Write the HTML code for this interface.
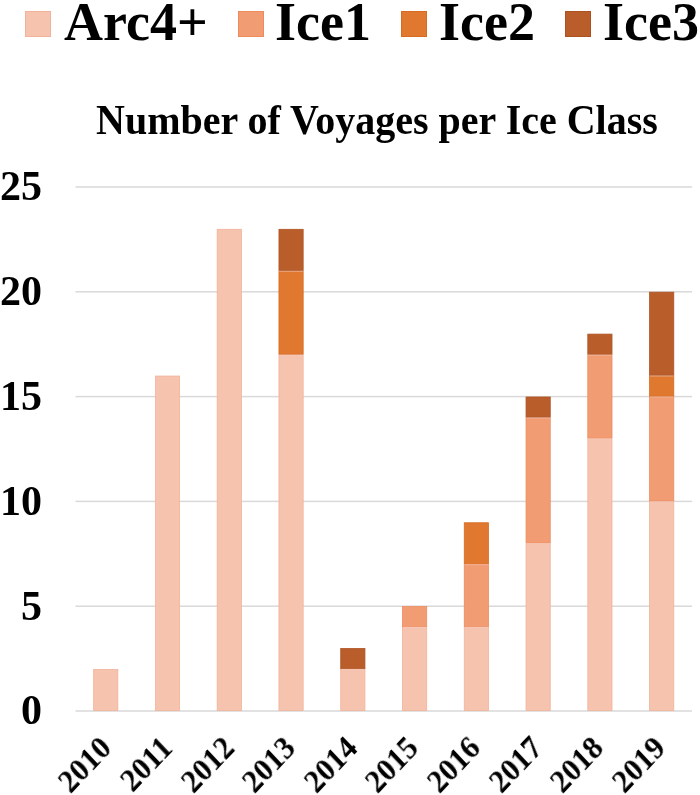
<!DOCTYPE html>
<html><head><meta charset="utf-8"><style>
html,body{margin:0;padding:0;background:#fff;width:700px;height:795px;overflow:hidden}
body{position:relative;font-family:"Liberation Serif",serif;font-weight:bold;color:#000}
.sw{position:absolute;top:11px;width:26px;height:26px}
.lg{position:absolute;will-change:transform;top:-5.1px;font-size:54px;line-height:54px;white-space:nowrap}
.title{position:absolute;will-change:transform;left:96.3px;top:101px;font-size:40px;line-height:40px;white-space:nowrap;transform-origin:0 33px;transform:scaleY(1.06)}
.yl{position:absolute;will-change:transform;right:658px;font-size:42px;line-height:42px;text-align:right;white-space:nowrap}
.xl{position:absolute;will-change:transform;font-size:30px;line-height:30px;white-space:nowrap;transform-origin:100% 0;transform:translateX(-100%) scaleY(1.05) rotate(-45deg)}
svg{position:absolute;left:0;top:0}
</style></head><body>
<svg width="700" height="795" viewBox="0 0 700 795">
<rect x="75.5" y="710.25" width="616.5" height="1.5" fill="#D9D9D9"/>
<rect x="75.5" y="605.45" width="616.5" height="1.5" fill="#D9D9D9"/>
<rect x="75.5" y="500.65" width="616.5" height="1.5" fill="#D9D9D9"/>
<rect x="75.5" y="395.85" width="616.5" height="1.5" fill="#D9D9D9"/>
<rect x="75.5" y="291.05" width="616.5" height="1.5" fill="#D9D9D9"/>
<rect x="75.5" y="186.25" width="616.5" height="1.5" fill="#D9D9D9"/>
<rect x="93.65" y="669.48" width="24.2" height="41.12" fill="#F6C3AF" stroke="#F2B29A" stroke-width="0.8"/>
<rect x="155.42" y="376.04" width="24.2" height="334.56" fill="#F6C3AF" stroke="#F2B29A" stroke-width="0.8"/>
<rect x="217.19" y="229.32" width="24.2" height="481.28" fill="#F6C3AF" stroke="#F2B29A" stroke-width="0.8"/>
<rect x="278.96" y="355.08" width="24.2" height="355.52" fill="#F6C3AF" stroke="#F2B29A" stroke-width="0.8"/>
<rect x="278.96" y="271.24" width="24.2" height="83.04" fill="#E07830" stroke="#D96A22" stroke-width="0.8"/>
<rect x="279.16" y="354.68" width="23.8" height="0.9" fill="#FAE0D6" opacity="0.5"/>
<rect x="278.96" y="229.32" width="24.2" height="41.12" fill="#B95E2A" stroke="#AE5222" stroke-width="0.8"/>
<rect x="279.16" y="270.84" width="23.8" height="0.9" fill="#FAE0D6" opacity="0.5"/>
<rect x="340.73" y="669.48" width="24.2" height="41.12" fill="#F6C3AF" stroke="#F2B29A" stroke-width="0.8"/>
<rect x="340.73" y="648.52" width="24.2" height="20.16" fill="#B95E2A" stroke="#AE5222" stroke-width="0.8"/>
<rect x="340.93" y="669.08" width="23.8" height="0.9" fill="#FAE0D6" opacity="0.5"/>
<rect x="402.50" y="627.56" width="24.2" height="83.04" fill="#F6C3AF" stroke="#F2B29A" stroke-width="0.8"/>
<rect x="402.50" y="606.60" width="24.2" height="20.16" fill="#F19C73" stroke="#EE8B5E" stroke-width="0.8"/>
<rect x="402.70" y="627.16" width="23.8" height="0.9" fill="#FAE0D6" opacity="0.5"/>
<rect x="464.27" y="627.56" width="24.2" height="83.04" fill="#F6C3AF" stroke="#F2B29A" stroke-width="0.8"/>
<rect x="464.27" y="564.68" width="24.2" height="62.08" fill="#F19C73" stroke="#EE8B5E" stroke-width="0.8"/>
<rect x="464.47" y="627.16" width="23.8" height="0.9" fill="#FAE0D6" opacity="0.5"/>
<rect x="464.27" y="522.76" width="24.2" height="41.12" fill="#E07830" stroke="#D96A22" stroke-width="0.8"/>
<rect x="464.47" y="564.28" width="23.8" height="0.9" fill="#FAE0D6" opacity="0.5"/>
<rect x="526.04" y="543.72" width="24.2" height="166.88" fill="#F6C3AF" stroke="#F2B29A" stroke-width="0.8"/>
<rect x="526.04" y="417.96" width="24.2" height="124.96" fill="#F19C73" stroke="#EE8B5E" stroke-width="0.8"/>
<rect x="526.24" y="543.32" width="23.8" height="0.9" fill="#FAE0D6" opacity="0.5"/>
<rect x="526.04" y="397.00" width="24.2" height="20.16" fill="#B95E2A" stroke="#AE5222" stroke-width="0.8"/>
<rect x="526.24" y="417.56" width="23.8" height="0.9" fill="#FAE0D6" opacity="0.5"/>
<rect x="587.81" y="438.92" width="24.2" height="271.68" fill="#F6C3AF" stroke="#F2B29A" stroke-width="0.8"/>
<rect x="587.81" y="355.08" width="24.2" height="83.04" fill="#F19C73" stroke="#EE8B5E" stroke-width="0.8"/>
<rect x="588.01" y="438.52" width="23.8" height="0.9" fill="#FAE0D6" opacity="0.5"/>
<rect x="587.81" y="334.12" width="24.2" height="20.16" fill="#B95E2A" stroke="#AE5222" stroke-width="0.8"/>
<rect x="588.01" y="354.68" width="23.8" height="0.9" fill="#FAE0D6" opacity="0.5"/>
<rect x="649.58" y="501.80" width="24.2" height="208.80" fill="#F6C3AF" stroke="#F2B29A" stroke-width="0.8"/>
<rect x="649.58" y="397.00" width="24.2" height="104.00" fill="#F19C73" stroke="#EE8B5E" stroke-width="0.8"/>
<rect x="649.78" y="501.40" width="23.8" height="0.9" fill="#FAE0D6" opacity="0.5"/>
<rect x="649.58" y="376.04" width="24.2" height="20.16" fill="#E07830" stroke="#D96A22" stroke-width="0.8"/>
<rect x="649.78" y="396.60" width="23.8" height="0.9" fill="#FAE0D6" opacity="0.5"/>
<rect x="649.58" y="292.20" width="24.2" height="83.04" fill="#B95E2A" stroke="#AE5222" stroke-width="0.8"/>
<rect x="649.78" y="375.64" width="23.8" height="0.9" fill="#FAE0D6" opacity="0.5"/>
</svg>
<div class="sw" style="left:25px;background:#F6C3AF;box-shadow:inset 0 0 0 1px #F2B29A"></div>
<div class="lg" style="left:64px">Arc4+</div>
<div class="sw" style="left:237.5px;background:#F19C73;box-shadow:inset 0 0 0 1px #EE8B5E"></div>
<div class="lg" style="left:275px">Ice1</div>
<div class="sw" style="left:401px;background:#E07830;box-shadow:inset 0 0 0 1px #D96A22"></div>
<div class="lg" style="left:439px">Ice2</div>
<div class="sw" style="left:564.5px;background:#B95E2A;box-shadow:inset 0 0 0 1px #AE5222"></div>
<div class="lg" style="left:603px">Ice3</div>
<div class="title">Number of Voyages per Ice Class</div>
<div class="yl" style="top:689.4px">0</div><div class="yl" style="top:584.6px">5</div><div class="yl" style="top:479.8px">10</div><div class="yl" style="top:375.0px">15</div><div class="yl" style="top:270.2px">20</div><div class="yl" style="top:165.4px">25</div>
<div class="xl" style="left:94.7px;top:730.5px">2010</div><div class="xl" style="left:156.2px;top:730.5px">2011</div><div class="xl" style="left:217.8px;top:730.5px">2012</div><div class="xl" style="left:279.3px;top:730.5px">2013</div><div class="xl" style="left:340.9px;top:730.5px">2014</div><div class="xl" style="left:402.4px;top:730.5px">2015</div><div class="xl" style="left:463.9px;top:730.5px">2016</div><div class="xl" style="left:525.5px;top:730.5px">2017</div><div class="xl" style="left:587.0px;top:730.5px">2018</div><div class="xl" style="left:648.6px;top:730.5px">2019</div>
</body></html>
